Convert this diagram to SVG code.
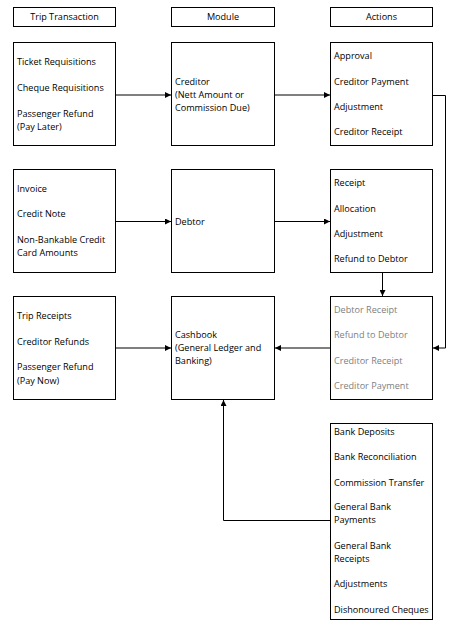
<svg xmlns="http://www.w3.org/2000/svg" width="454" height="634" viewBox="0 0 454 634">
<style>
.box{fill:#fff;stroke:#000;stroke-width:1}
text{font-family:"Open Sans","Noto Sans",sans-serif;font-size:9.1px;fill:#000}
.c{text-anchor:middle}
.g{fill:#808080}
.con{fill:none;stroke:#000;stroke-width:1}
</style>
<defs>
<marker id="ah" viewBox="0 0 10 10" refX="10" refY="5" markerWidth="7" markerHeight="6" markerUnits="userSpaceOnUse" orient="auto">
<path d="M0,0 L10,5 L0,10 Z" fill="#000"/>
</marker>
</defs>
<rect width="454" height="634" fill="#fff"/>
<g id="hdr-trip"><rect class="box" x="13.5" y="7.5" width="102" height="19"/><text class="c" x="64.5" y="20">Trip Transaction</text></g>
<g id="hdr-module"><rect class="box" x="171.5" y="7.5" width="103" height="19"/><text class="c" x="223" y="20">Module</text></g>
<g id="hdr-actions"><rect class="box" x="330.5" y="7.5" width="102" height="19"/><text class="c" x="381.5" y="20">Actions</text></g>

<g id="trip1"><rect class="box" x="13.5" y="42.5" width="102" height="103"/>
<text x="17" y="65">Ticket Requisitions</text><text x="17" y="91">Cheque Requisitions</text><text x="17" y="116.5">Passenger Refund</text><text x="17" y="130">(Pay Later)</text></g>
<g id="creditor"><rect class="box" x="171.5" y="42.5" width="103" height="103"/>
<text x="175" y="84.5">Creditor</text><text x="175" y="97.5">(Nett Amount or</text><text x="175" y="110.5">Commission Due)</text></g>
<g id="actions1"><rect class="box" x="330.5" y="42.5" width="102" height="103"/>
<text x="334" y="59">Approval</text><text x="334" y="84.5">Creditor Payment</text><text x="334" y="110">Adjustment</text><text x="334" y="135">Creditor Receipt</text></g>

<g id="trip2"><rect class="box" x="13.5" y="169.5" width="102" height="103"/>
<text x="17" y="191.5">Invoice</text><text x="17" y="217">Credit Note</text><text x="17" y="242.5">Non-Bankable Credit</text><text x="17" y="255.5">Card Amounts</text></g>
<g id="debtor"><rect class="box" x="171.5" y="169.5" width="103" height="103"/>
<text x="175" y="225">Debtor</text></g>
<g id="actions2"><rect class="box" x="330.5" y="169.5" width="102" height="103"/>
<text x="334" y="186">Receipt</text><text x="334" y="211.5">Allocation</text><text x="334" y="236.5">Adjustment</text><text x="334" y="262">Refund to Debtor</text></g>

<g id="trip3"><rect class="box" x="13.5" y="296.5" width="102" height="103"/>
<text x="17" y="319">Trip Receipts</text><text x="17" y="345">Creditor Refunds</text><text x="17" y="370">Passenger Refund</text><text x="17" y="383.5">(Pay Now)</text></g>
<g id="cashbook"><rect class="box" x="171.5" y="296.5" width="103" height="103"/>
<text x="175" y="337.5">Cashbook</text><text x="175" y="351">(General Ledger and</text><text x="175" y="364">Banking)</text></g>
<g id="actions3"><rect class="box" x="330.5" y="296.5" width="102" height="103"/>
<text class="g" x="334" y="312.5">Debtor Receipt</text><text class="g" x="334" y="338">Refund to Debtor</text><text class="g" x="334" y="364">Creditor Receipt</text><text class="g" x="334" y="388.5">Creditor Payment</text></g>

<g id="bank"><rect class="box" x="330.5" y="423.5" width="102" height="196"/>
<text x="334" y="435">Bank Deposits</text><text x="334" y="460">Bank Reconciliation</text><text x="334" y="485.5">Commission Transfer</text><text x="334" y="510">General Bank</text><text x="334" y="523">Payments</text><text x="334" y="549">General Bank</text><text x="334" y="561.5">Receipts</text><text x="334" y="586.5">Adjustments</text><text x="334" y="612.5">Dishonoured Cheques</text></g>

<g id="connectors">
<path class="con" d="M115.5,95 H171" marker-end="url(#ah)"/>
<path class="con" d="M274.5,95 H330" marker-end="url(#ah)"/>
<path class="con" d="M115.5,221.5 H171" marker-end="url(#ah)"/>
<path class="con" d="M274.5,221.5 H330" marker-end="url(#ah)"/>
<path class="con" d="M115.5,348 H171" marker-end="url(#ah)"/>
<path class="con" d="M330.5,348 H275" marker-end="url(#ah)"/>
<path class="con" d="M382.5,272.5 V296" marker-end="url(#ah)"/>
<path class="con" d="M432.5,95.5 H445.5 V348 H433" marker-end="url(#ah)"/>
<path class="con" d="M330.5,520.5 H223.5 V400" marker-end="url(#ah)"/>
</g>
</svg>
